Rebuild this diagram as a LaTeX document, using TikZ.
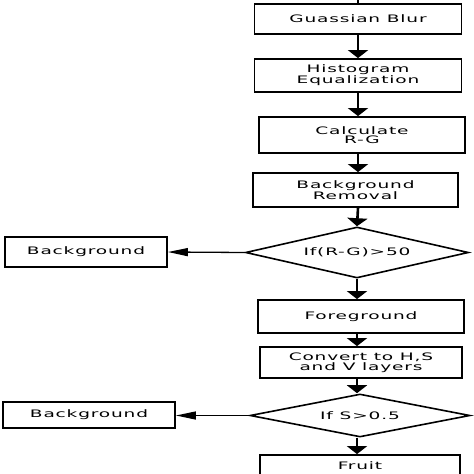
\documentclass[tikz,border=0pt]{standalone}
\usepackage{fontspec}
\setmainfont{DejaVu Sans}[FakeStretch=1.8,LetterSpace=8]
\usetikzlibrary{positioning,arrows.meta,shapes.geometric}
\tikzset{
  box/.style={rectangle, draw, line width=1.8pt, fill=white, inner sep=0pt,
              align=center, font=\fontsize{10.3}{9}\selectfont},
  test/.style={diamond, draw, line width=1.6pt, fill=white, inner sep=0pt,
               aspect=4.4, align=center, font=\fontsize{10.3}{9}\selectfont},
  vflow/.style={line width=2.6pt, -{Triangle[length=8pt, width=20pt]}},
  hflow/.style={line width=1.3pt, -{Triangle[length=20pt, width=8pt]}},
}

\begin{document}
\begin{tikzpicture}[x=1pt, y=-1pt]
  \clip (0,0) rectangle (474,474);
  \useasboundingbox (0,0) rectangle (474,474);
  % main column
  \coordinate (top) at (358,-2);
  \node[box, minimum width=207, minimum height=30] (blur) at (358,19) {Guassian Blur};
  \node[box, minimum width=207, minimum height=33] (hist) at (358,75.5) {Histogram\\Equalization};
  \node[box, minimum width=206, minimum height=36] (calc) at (362,135) {Calculate\\R-G};
  \node[box, minimum width=205, minimum height=34] (remov) at (355.5,190) {Background\\Removal};
  \node[test, minimum width=223, minimum height=51] (test1) at (357,252.5) {If(R-G)>50};
  \node[box, minimum width=206, minimum height=33] (fore) at (361,316.5) {Foreground};
  \node[box, minimum width=202, minimum height=31] (conv) at (361,362.5) {Convert to H,S\\and V layers};
  \node[test, minimum width=220, minimum height=43] (test2) at (360,415.5) {If S>0.5};
  \node[box, minimum width=200, minimum height=22] (fruit) at (360,466) {Fruit};
  % rejected branch
  \node[box, minimum width=162, minimum height=30] (bg1) at (86,252) {Background};
  \node[box, minimum width=172, minimum height=26] (bg2) at (89,415) {Background};
  % arrows
  \draw[line width=2.6pt] (top) -- (top |- blur.north);
  \draw[vflow] (blur.south) -- (blur.south |- hist.north);
  \draw[vflow] (hist.south) -- (hist.south |- calc.north);
  \draw[vflow] (hist.south |- calc.south) -- (hist.south |- remov.north);
  \draw[vflow] (hist.south |- remov.south) -- (test1.north);
  \draw[vflow] (test1.south) -- (test1.south |- fore.north);
  \draw[vflow] (test1.south |- fore.south) -- (test1.south |- conv.north);
  \draw[vflow] (test1.south |- conv.south) -- (test1.south |- test2.north);
  \draw[vflow] (test1.south |- test2.south) -- (test1.south |- fruit.north);
  \draw[hflow] (test1.west) -- (bg1.east);
  \draw[hflow] (test2.west) -- (test2.west -| bg2.east);
\end{tikzpicture}
\end{document}
